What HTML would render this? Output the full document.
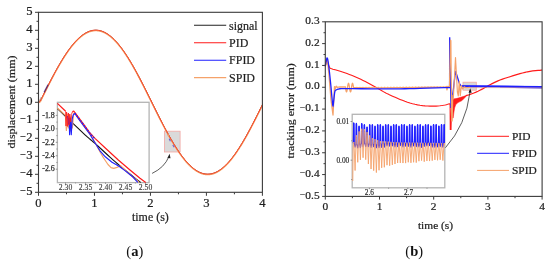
<!DOCTYPE html>
<html><head><meta charset="utf-8"><style>
html,body{margin:0;padding:0;background:#fff;}
body{width:550px;height:263px;overflow:hidden;}
svg{display:block;}
</style></head><body>
<svg width="550" height="263" viewBox="0 0 550 263" font-family='"Liberation Serif", "Times New Roman", serif' fill="#1e1e1e">
<rect width="550" height="263" fill="#fff"/>
<path d="M35.00,192.30H38.5M36.50,183.30H38.5M35.00,174.30H38.5M36.50,165.30H38.5M35.00,156.30H38.5M36.50,147.30H38.5M35.00,138.30H38.5M36.50,129.30H38.5M35.00,120.30H38.5M36.50,111.30H38.5M35.00,102.30H38.5M36.50,93.30H38.5M35.00,84.30H38.5M36.50,75.30H38.5M35.00,66.30H38.5M36.50,57.30H38.5M35.00,48.30H38.5M36.50,39.30H38.5M35.00,30.30H38.5M36.50,21.30H38.5M35.00,12.30H38.5M38.50,192.3V195.80M66.49,192.3V194.30M94.47,192.3V195.80M122.46,192.3V194.30M150.45,192.3V195.80M178.44,192.3V194.30M206.42,192.3V195.80M234.41,192.3V194.30M262.40,192.3V195.80" stroke="#3a3a3a" stroke-width="1" fill="none"/>
<text transform="translate(32.50,194.90)" font-size="12.6" text-anchor="end" stroke="#1e1e1e" stroke-width="0.22"><tspan font-size="10.2" dy="-0.6">−</tspan><tspan dx="0.3" dy="0.6">5</tspan></text>
<text transform="translate(32.50,176.90)" font-size="12.6" text-anchor="end" stroke="#1e1e1e" stroke-width="0.22"><tspan font-size="10.2" dy="-0.6">−</tspan><tspan dx="0.3" dy="0.6">4</tspan></text>
<text transform="translate(32.50,158.90)" font-size="12.6" text-anchor="end" stroke="#1e1e1e" stroke-width="0.22"><tspan font-size="10.2" dy="-0.6">−</tspan><tspan dx="0.3" dy="0.6">3</tspan></text>
<text transform="translate(32.50,140.90)" font-size="12.6" text-anchor="end" stroke="#1e1e1e" stroke-width="0.22"><tspan font-size="10.2" dy="-0.6">−</tspan><tspan dx="0.3" dy="0.6">2</tspan></text>
<text transform="translate(32.50,122.90)" font-size="12.6" text-anchor="end" stroke="#1e1e1e" stroke-width="0.22"><tspan font-size="10.2" dy="-0.6">−</tspan><tspan dx="0.3" dy="0.6">1</tspan></text>
<text transform="translate(32.50,104.90)" font-size="12.6" text-anchor="end" stroke="#1e1e1e" stroke-width="0.22">0</text>
<text transform="translate(32.50,86.90)" font-size="12.6" text-anchor="end" stroke="#1e1e1e" stroke-width="0.22">1</text>
<text transform="translate(32.50,68.90)" font-size="12.6" text-anchor="end" stroke="#1e1e1e" stroke-width="0.22">2</text>
<text transform="translate(32.50,50.90)" font-size="12.6" text-anchor="end" stroke="#1e1e1e" stroke-width="0.22">3</text>
<text transform="translate(32.50,32.90)" font-size="12.6" text-anchor="end" stroke="#1e1e1e" stroke-width="0.22">4</text>
<text transform="translate(32.50,14.90)" font-size="12.6" text-anchor="end" stroke="#1e1e1e" stroke-width="0.22">5</text>
<text transform="translate(38.50,207.20)" font-size="12.6" text-anchor="middle" stroke="#1e1e1e" stroke-width="0.22">0</text>
<text transform="translate(94.47,207.20)" font-size="12.6" text-anchor="middle" stroke="#1e1e1e" stroke-width="0.22">1</text>
<text transform="translate(150.45,207.20)" font-size="12.6" text-anchor="middle" stroke="#1e1e1e" stroke-width="0.22">2</text>
<text transform="translate(206.42,207.20)" font-size="12.6" text-anchor="middle" stroke="#1e1e1e" stroke-width="0.22">3</text>
<text transform="translate(262.40,207.20)" font-size="12.6" text-anchor="middle" stroke="#1e1e1e" stroke-width="0.22">4</text>
<text transform="translate(150.40,220.50) scale(0.95,1.0)" font-size="12.6" text-anchor="middle" stroke="#1e1e1e" stroke-width="0.22">time (s)</text>
<text transform="translate(15.40,102.00) rotate(-90) scale(1.0,0.9)" font-size="12.0" text-anchor="middle" stroke="#1e1e1e" stroke-width="0.22">displacement (mm)</text>
<text transform="translate(134.8,256.0)" font-size="14.5" text-anchor="middle" fill="#111">(<tspan font-weight="bold">a</tspan>)</text>
<rect x="164.4" y="131.2" width="15.7" height="20.8" fill="#dadada" stroke="#f2a8a4" stroke-width="0.8"/>
<clipPath id="cl"><rect x="38.5" y="12.3" width="223.89999999999998" height="180.0"/></clipPath>
<g clip-path="url(#cl)">
<path d="M39.00,102.30L40.36,101.17L40.92,100.04L41.48,98.91L42.04,97.78L42.60,96.65L43.16,95.52L43.72,94.40L44.28,93.28L44.84,92.16L45.40,91.04L45.96,89.92L46.52,88.81L47.08,87.70L47.64,86.59L48.20,85.49L48.76,84.39L49.32,83.30L49.88,82.21L50.44,81.13L50.99,80.05L51.55,78.98L52.11,77.91L52.67,76.85L53.23,75.80L53.79,74.75L54.35,73.71L54.91,72.67L55.47,71.64L56.03,70.62L56.59,69.61L57.15,68.61L57.71,67.61L58.27,66.63L58.83,65.65L59.39,64.68L59.95,63.72L60.51,62.77L61.07,61.83L61.63,60.90L62.19,59.98L62.75,59.07L63.31,58.17L63.87,57.28L64.43,56.41L64.99,55.54L65.55,54.69L66.11,53.84L66.67,53.01L67.23,52.19L67.79,51.39L68.35,50.59L68.91,49.81L69.47,49.05L70.03,48.29L70.59,47.55L71.15,46.82L71.71,46.11L72.27,45.41L72.83,44.72L73.38,44.05L73.94,43.39L74.50,42.75L75.06,42.12L75.62,41.51L76.18,40.91L76.74,40.33L77.30,39.76L77.86,39.21L78.42,38.67L78.98,38.15L79.54,37.64L80.10,37.15L80.66,36.68L81.22,36.22L81.78,35.78L82.34,35.36L82.90,34.95L83.46,34.56L84.02,34.18L84.58,33.82L85.14,33.48L85.70,33.16L86.26,32.85L86.82,32.56L87.38,32.29L87.94,32.03L88.50,31.80L89.06,31.58L89.62,31.37L90.18,31.19L90.74,31.02L91.30,30.87L91.86,30.73L92.42,30.62L92.98,30.52L93.54,30.44L94.10,30.38L94.66,30.34L95.22,30.31L95.77,30.30L96.33,30.31L96.89,30.34L97.45,30.38L98.01,30.44L98.57,30.52L99.13,30.62L99.69,30.73L100.25,30.87L100.81,31.02L101.37,31.19L101.93,31.37L102.49,31.58L103.05,31.80L103.61,32.03L104.17,32.29L104.73,32.56L105.29,32.85L105.85,33.16L106.41,33.48L106.97,33.82L107.53,34.18L108.09,34.56L108.65,34.95L109.21,35.36L109.77,35.78L110.33,36.22L110.89,36.68L111.45,37.15L112.01,37.64L112.57,38.15L113.13,38.67L113.69,39.21L114.25,39.76L114.81,40.33L115.37,40.91L115.93,41.51L116.49,42.12L117.05,42.75L117.61,43.39L118.16,44.05L118.72,44.72L119.28,45.41L119.84,46.11L120.40,46.82L120.96,47.55L121.52,48.29L122.08,49.05L122.64,49.81L123.20,50.59L123.76,51.39L124.32,52.19L124.88,53.01L125.44,53.84L126.00,54.69L126.56,55.54L127.12,56.41L127.68,57.28L128.24,58.17L128.80,59.07L129.36,59.98L129.92,60.90L130.48,61.83L131.04,62.77L131.60,63.72L132.16,64.68L132.72,65.65L133.28,66.63L133.84,67.61L134.40,68.61L134.96,69.61L135.52,70.62L136.08,71.64L136.64,72.67L137.20,73.71L137.76,74.75L138.32,75.80L138.88,76.85L139.44,77.91L140.00,78.98L140.56,80.05L141.11,81.13L141.67,82.21L142.23,83.30L142.79,84.39L143.35,85.49L143.91,86.59L144.47,87.70L145.03,88.81L145.59,89.92L146.15,91.04L146.71,92.16L147.27,93.28L147.83,94.40L148.39,95.52L148.95,96.65L149.51,97.78L150.07,98.91L150.63,100.04L151.19,101.17L151.75,102.30L152.31,103.43L152.87,104.56L153.43,105.69L153.99,106.82L154.55,107.95L155.11,109.08L155.67,110.20L156.23,111.32L156.79,112.44L157.35,113.56L157.91,114.68L158.47,115.79L159.03,116.90L159.59,118.01L160.15,119.11L160.71,120.21L161.27,121.30L161.83,122.39L162.39,123.47L162.94,124.55L163.50,125.62L164.06,126.69L164.62,127.75L165.18,128.80L165.74,129.85L166.30,130.89L166.86,131.93L167.42,132.96L167.98,133.98L168.54,134.99L169.10,135.99L169.66,136.99L170.22,137.97L170.78,138.95L171.34,139.92L171.90,140.88L172.46,141.83L173.02,142.77L173.58,143.70L174.14,144.62L174.70,145.53L175.26,146.43L175.82,147.32L176.38,148.19L176.94,149.06L177.50,149.91L178.06,150.76L178.62,151.59L179.18,152.41L179.74,153.21L180.30,154.01L180.86,154.79L181.42,155.55L181.98,156.31L182.54,157.05L183.10,157.78L183.66,158.49L184.22,159.19L184.78,159.88L185.34,160.55L185.89,161.21L186.45,161.85L187.01,162.48L187.57,163.09L188.13,163.69L188.69,164.27L189.25,164.84L189.81,165.39L190.37,165.93L190.93,166.45L191.49,166.96L192.05,167.45L192.61,167.92L193.17,168.38L193.73,168.82L194.29,169.24L194.85,169.65L195.41,170.04L195.97,170.42L196.53,170.78L197.09,171.12L197.65,171.44L198.21,171.75L198.77,172.04L199.33,172.31L199.89,172.57L200.45,172.80L201.01,173.02L201.57,173.23L202.13,173.41L202.69,173.58L203.25,173.73L203.81,173.87L204.37,173.98L204.93,174.08L205.49,174.16L206.05,174.22L206.61,174.26L207.17,174.29L207.72,174.30L208.28,174.29L208.84,174.26L209.40,174.22L209.96,174.16L210.52,174.08L211.08,173.98L211.64,173.87L212.20,173.73L212.76,173.58L213.32,173.41L213.88,173.23L214.44,173.02L215.00,172.80L215.56,172.57L216.12,172.31L216.68,172.04L217.24,171.75L217.80,171.44L218.36,171.12L218.92,170.78L219.48,170.42L220.04,170.04L220.60,169.65L221.16,169.24L221.72,168.82L222.28,168.38L222.84,167.92L223.40,167.45L223.96,166.96L224.52,166.45L225.08,165.93L225.64,165.39L226.20,164.84L226.76,164.27L227.32,163.69L227.88,163.09L228.44,162.48L229.00,161.85L229.56,161.21L230.11,160.55L230.67,159.88L231.23,159.19L231.79,158.49L232.35,157.78L232.91,157.05L233.47,156.31L234.03,155.55L234.59,154.79L235.15,154.01L235.71,153.21L236.27,152.41L236.83,151.59L237.39,150.76L237.95,149.91L238.51,149.06L239.07,148.19L239.63,147.32L240.19,146.43L240.75,145.53L241.31,144.62L241.87,143.70L242.43,142.77L242.99,141.83L243.55,140.88L244.11,139.92L244.67,138.95L245.23,137.97L245.79,136.99L246.35,135.99L246.91,134.99L247.47,133.98L248.03,132.96L248.59,131.93L249.15,130.89L249.71,129.85L250.27,128.80L250.83,127.75L251.39,126.69L251.95,125.62L252.50,124.55L253.06,123.47L253.62,122.39L254.18,121.30L254.74,120.21L255.30,119.11L255.86,118.01L256.42,116.90L256.98,115.79L257.54,114.68L258.10,113.56L258.66,112.44L259.22,111.32L259.78,110.20L260.34,109.08L260.90,107.95L261.46,106.82L262.02,105.69L262.58,104.56L263.14,103.43L263.70,102.30" stroke="#000" stroke-width="0.9" fill="none"/>
<path d="M39.00,102.60L40.36,101.47L40.92,100.34L41.48,99.21L42.04,98.08L42.60,96.95L43.16,95.82L43.72,94.70L44.28,93.58L44.84,92.46L45.40,91.34L45.96,90.22L46.52,89.11L47.08,88.00L47.64,86.89L48.20,85.79L48.76,84.69L49.32,83.60L49.88,82.51L50.44,81.43L50.99,80.35L51.55,79.28L52.11,78.21L52.67,77.15L53.23,76.10L53.79,75.05L54.35,74.01L54.91,72.97L55.47,71.94L56.03,70.92L56.59,69.91L57.15,68.91L57.71,67.91L58.27,66.93L58.83,65.95L59.39,64.98L59.95,64.02L60.51,63.07L61.07,62.13L61.63,61.20L62.19,60.28L62.75,59.37L63.31,58.47L63.87,57.58L64.43,56.71L64.99,55.84L65.55,54.99L66.11,54.14L66.67,53.31L67.23,52.49L67.79,51.69L68.35,50.89L68.91,50.11L69.47,49.35L70.03,48.59L70.59,47.85L71.15,47.12L71.71,46.41L72.27,45.71L72.83,45.02L73.38,44.35L73.94,43.69L74.50,43.05L75.06,42.42L75.62,41.81L76.18,41.21L76.74,40.63L77.30,40.06L77.86,39.51L78.42,38.97L78.98,38.45L79.54,37.94L80.10,37.45L80.66,36.98L81.22,36.52L81.78,36.08L82.34,35.66L82.90,35.25L83.46,34.86L84.02,34.48L84.58,34.12L85.14,33.78L85.70,33.46L86.26,33.15L86.82,32.86L87.38,32.59L87.94,32.33L88.50,32.10L89.06,31.88L89.62,31.67L90.18,31.49L90.74,31.32L91.30,31.17L91.86,31.03L92.42,30.92L92.98,30.82L93.54,30.74L94.10,30.68L94.66,30.64L95.22,30.61L95.77,30.60L96.33,30.61L96.89,30.64L97.45,30.68L98.01,30.74L98.57,30.82L99.13,30.92L99.69,31.03L100.25,31.17L100.81,31.32L101.37,31.49L101.93,31.67L102.49,31.88L103.05,32.10L103.61,32.33L104.17,32.59L104.73,32.86L105.29,33.15L105.85,33.46L106.41,33.78L106.97,34.12L107.53,34.48L108.09,34.86L108.65,35.25L109.21,35.66L109.77,36.08L110.33,36.52L110.89,36.98L111.45,37.45L112.01,37.94L112.57,38.45L113.13,38.97L113.69,39.51L114.25,40.06L114.81,40.63L115.37,41.21L115.93,41.81L116.49,42.42L117.05,43.05L117.61,43.69L118.16,44.35L118.72,45.02L119.28,45.71L119.84,46.41L120.40,47.12L120.96,47.85L121.52,48.59L122.08,49.35L122.64,50.11L123.20,50.89L123.76,51.69L124.32,52.49L124.88,53.31L125.44,54.14L126.00,54.99L126.56,55.84L127.12,56.71L127.68,57.58L128.24,58.47L128.80,59.37L129.36,60.28L129.92,61.20L130.48,62.13L131.04,63.07L131.60,64.02L132.16,64.98L132.72,65.95L133.28,66.93L133.84,67.91L134.40,68.91L134.96,69.91L135.52,70.92L136.08,71.94L136.64,72.97L137.20,74.01L137.76,75.05L138.32,76.10L138.88,77.15L139.44,78.21L140.00,79.28L140.56,80.35L141.11,81.43L141.67,82.51L142.23,83.60L142.79,84.69L143.35,85.79L143.91,86.89L144.47,88.00L145.03,89.11L145.59,90.22L146.15,91.34L146.71,92.46L147.27,93.58L147.83,94.70L148.39,95.82L148.95,96.95L149.51,98.08L150.07,99.21L150.63,100.34L151.19,101.47L151.75,102.60L152.31,103.73L152.87,104.86L153.43,105.99L153.99,107.12L154.55,108.25L155.11,109.38L155.67,110.50L156.23,111.62L156.79,112.74L157.35,113.86L157.91,114.98L158.47,116.09L159.03,117.20L159.59,118.31L160.15,119.41L160.71,120.51L161.27,121.60L161.83,122.69L162.39,123.77L162.94,124.85L163.50,125.92L164.06,126.99L164.62,128.05L165.18,129.10L165.74,130.15L166.30,131.19L166.86,132.23L167.42,133.26L167.98,134.28L168.54,135.29L169.10,136.29L169.66,137.29L170.22,138.27L170.78,139.25L171.34,140.22L171.90,141.18L172.46,142.13L173.02,143.07L173.58,144.00L174.14,144.92L174.70,145.83L175.26,146.73L175.82,147.62L176.38,148.49L176.94,149.36L177.50,150.21L178.06,151.06L178.62,151.89L179.18,152.71L179.74,153.51L180.30,154.31L180.86,155.09L181.42,155.85L181.98,156.61L182.54,157.35L183.10,158.08L183.66,158.79L184.22,159.49L184.78,160.18L185.34,160.85L185.89,161.51L186.45,162.15L187.01,162.78L187.57,163.39L188.13,163.99L188.69,164.57L189.25,165.14L189.81,165.69L190.37,166.23L190.93,166.75L191.49,167.26L192.05,167.75L192.61,168.22L193.17,168.68L193.73,169.12L194.29,169.54L194.85,169.95L195.41,170.34L195.97,170.72L196.53,171.08L197.09,171.42L197.65,171.74L198.21,172.05L198.77,172.34L199.33,172.61L199.89,172.87L200.45,173.10L201.01,173.32L201.57,173.53L202.13,173.71L202.69,173.88L203.25,174.03L203.81,174.17L204.37,174.28L204.93,174.38L205.49,174.46L206.05,174.52L206.61,174.56L207.17,174.59L207.72,174.60L208.28,174.59L208.84,174.56L209.40,174.52L209.96,174.46L210.52,174.38L211.08,174.28L211.64,174.17L212.20,174.03L212.76,173.88L213.32,173.71L213.88,173.53L214.44,173.32L215.00,173.10L215.56,172.87L216.12,172.61L216.68,172.34L217.24,172.05L217.80,171.74L218.36,171.42L218.92,171.08L219.48,170.72L220.04,170.34L220.60,169.95L221.16,169.54L221.72,169.12L222.28,168.68L222.84,168.22L223.40,167.75L223.96,167.26L224.52,166.75L225.08,166.23L225.64,165.69L226.20,165.14L226.76,164.57L227.32,163.99L227.88,163.39L228.44,162.78L229.00,162.15L229.56,161.51L230.11,160.85L230.67,160.18L231.23,159.49L231.79,158.79L232.35,158.08L232.91,157.35L233.47,156.61L234.03,155.85L234.59,155.09L235.15,154.31L235.71,153.51L236.27,152.71L236.83,151.89L237.39,151.06L237.95,150.21L238.51,149.36L239.07,148.49L239.63,147.62L240.19,146.73L240.75,145.83L241.31,144.92L241.87,144.00L242.43,143.07L242.99,142.13L243.55,141.18L244.11,140.22L244.67,139.25L245.23,138.27L245.79,137.29L246.35,136.29L246.91,135.29L247.47,134.28L248.03,133.26L248.59,132.23L249.15,131.19L249.71,130.15L250.27,129.10L250.83,128.05L251.39,126.99L251.95,125.92L252.50,124.85L253.06,123.77L253.62,122.69L254.18,121.60L254.74,120.51L255.30,119.41L255.86,118.31L256.42,117.20L256.98,116.09L257.54,114.98L258.10,113.86L258.66,112.74L259.22,111.62L259.78,110.50L260.34,109.38L260.90,108.25L261.46,107.12L262.02,105.99L262.58,104.86L263.14,103.73L263.70,102.60" stroke="#f5a26a" stroke-width="1.45" fill="none"/>
<path d="M39.00,102.10L40.36,100.97L40.92,99.84L41.48,98.71L42.04,97.58L42.60,96.45L43.16,95.32L43.72,94.20L44.28,93.08L44.84,91.96L45.40,90.84L45.96,89.72L46.52,88.61L47.08,87.50L47.64,86.39L48.20,85.29L48.76,84.19L49.32,83.10L49.88,82.01L50.44,80.93L50.99,79.85L51.55,78.78L52.11,77.71L52.67,76.65L53.23,75.60L53.79,74.55L54.35,73.51L54.91,72.47L55.47,71.44L56.03,70.42L56.59,69.41L57.15,68.41L57.71,67.41L58.27,66.43L58.83,65.45L59.39,64.48L59.95,63.52L60.51,62.57L61.07,61.63L61.63,60.70L62.19,59.78L62.75,58.87L63.31,57.97L63.87,57.08L64.43,56.21L64.99,55.34L65.55,54.49L66.11,53.64L66.67,52.81L67.23,51.99L67.79,51.19L68.35,50.39L68.91,49.61L69.47,48.85L70.03,48.09L70.59,47.35L71.15,46.62L71.71,45.91L72.27,45.21L72.83,44.52L73.38,43.85L73.94,43.19L74.50,42.55L75.06,41.92L75.62,41.31L76.18,40.71L76.74,40.13L77.30,39.56L77.86,39.01L78.42,38.47L78.98,37.95L79.54,37.44L80.10,36.95L80.66,36.48L81.22,36.02L81.78,35.58L82.34,35.16L82.90,34.75L83.46,34.36L84.02,33.98L84.58,33.62L85.14,33.28L85.70,32.96L86.26,32.65L86.82,32.36L87.38,32.09L87.94,31.83L88.50,31.60L89.06,31.38L89.62,31.17L90.18,30.99L90.74,30.82L91.30,30.67L91.86,30.53L92.42,30.42L92.98,30.32L93.54,30.24L94.10,30.18L94.66,30.14L95.22,30.11L95.77,30.10L96.33,30.11L96.89,30.14L97.45,30.18L98.01,30.24L98.57,30.32L99.13,30.42L99.69,30.53L100.25,30.67L100.81,30.82L101.37,30.99L101.93,31.17L102.49,31.38L103.05,31.60L103.61,31.83L104.17,32.09L104.73,32.36L105.29,32.65L105.85,32.96L106.41,33.28L106.97,33.62L107.53,33.98L108.09,34.36L108.65,34.75L109.21,35.16L109.77,35.58L110.33,36.02L110.89,36.48L111.45,36.95L112.01,37.44L112.57,37.95L113.13,38.47L113.69,39.01L114.25,39.56L114.81,40.13L115.37,40.71L115.93,41.31L116.49,41.92L117.05,42.55L117.61,43.19L118.16,43.85L118.72,44.52L119.28,45.21L119.84,45.91L120.40,46.62L120.96,47.35L121.52,48.09L122.08,48.85L122.64,49.61L123.20,50.39L123.76,51.19L124.32,51.99L124.88,52.81L125.44,53.64L126.00,54.49L126.56,55.34L127.12,56.21L127.68,57.08L128.24,57.97L128.80,58.87L129.36,59.78L129.92,60.70L130.48,61.63L131.04,62.57L131.60,63.52L132.16,64.48L132.72,65.45L133.28,66.43L133.84,67.41L134.40,68.41L134.96,69.41L135.52,70.42L136.08,71.44L136.64,72.47L137.20,73.51L137.76,74.55L138.32,75.60L138.88,76.65L139.44,77.71L140.00,78.78L140.56,79.85L141.11,80.93L141.67,82.01L142.23,83.10L142.79,84.19L143.35,85.29L143.91,86.39L144.47,87.50L145.03,88.61L145.59,89.72L146.15,90.84L146.71,91.96L147.27,93.08L147.83,94.20L148.39,95.32L148.95,96.45L149.51,97.58L150.07,98.71L150.63,99.84L151.19,100.97L151.75,102.10L152.31,103.23L152.87,104.36L153.43,105.49L153.99,106.62L154.55,107.75L155.11,108.88L155.67,110.00L156.23,111.12L156.79,112.24L157.35,113.36L157.91,114.48L158.47,115.59L159.03,116.70L159.59,117.81L160.15,118.91L160.71,120.01L161.27,121.10L161.83,122.19L162.39,123.27L162.94,124.35L163.50,125.42L164.06,126.49L164.62,127.55L165.18,128.60L165.74,129.65L166.30,130.69L166.86,131.73L167.42,132.76L167.98,133.78L168.54,134.79L169.10,135.79L169.66,136.79L170.22,137.77L170.78,138.75L171.34,139.72L171.90,140.68L172.46,141.63L173.02,142.57L173.58,143.50L174.14,144.42L174.70,145.33L175.26,146.23L175.82,147.12L176.38,147.99L176.94,148.86L177.50,149.71L178.06,150.56L178.62,151.39L179.18,152.21L179.74,153.01L180.30,153.81L180.86,154.59L181.42,155.35L181.98,156.11L182.54,156.85L183.10,157.58L183.66,158.29L184.22,158.99L184.78,159.68L185.34,160.35L185.89,161.01L186.45,161.65L187.01,162.28L187.57,162.89L188.13,163.49L188.69,164.07L189.25,164.64L189.81,165.19L190.37,165.73L190.93,166.25L191.49,166.76L192.05,167.25L192.61,167.72L193.17,168.18L193.73,168.62L194.29,169.04L194.85,169.45L195.41,169.84L195.97,170.22L196.53,170.58L197.09,170.92L197.65,171.24L198.21,171.55L198.77,171.84L199.33,172.11L199.89,172.37L200.45,172.60L201.01,172.82L201.57,173.03L202.13,173.21L202.69,173.38L203.25,173.53L203.81,173.67L204.37,173.78L204.93,173.88L205.49,173.96L206.05,174.02L206.61,174.06L207.17,174.09L207.72,174.10L208.28,174.09L208.84,174.06L209.40,174.02L209.96,173.96L210.52,173.88L211.08,173.78L211.64,173.67L212.20,173.53L212.76,173.38L213.32,173.21L213.88,173.03L214.44,172.82L215.00,172.60L215.56,172.37L216.12,172.11L216.68,171.84L217.24,171.55L217.80,171.24L218.36,170.92L218.92,170.58L219.48,170.22L220.04,169.84L220.60,169.45L221.16,169.04L221.72,168.62L222.28,168.18L222.84,167.72L223.40,167.25L223.96,166.76L224.52,166.25L225.08,165.73L225.64,165.19L226.20,164.64L226.76,164.07L227.32,163.49L227.88,162.89L228.44,162.28L229.00,161.65L229.56,161.01L230.11,160.35L230.67,159.68L231.23,158.99L231.79,158.29L232.35,157.58L232.91,156.85L233.47,156.11L234.03,155.35L234.59,154.59L235.15,153.81L235.71,153.01L236.27,152.21L236.83,151.39L237.39,150.56L237.95,149.71L238.51,148.86L239.07,147.99L239.63,147.12L240.19,146.23L240.75,145.33L241.31,144.42L241.87,143.50L242.43,142.57L242.99,141.63L243.55,140.68L244.11,139.72L244.67,138.75L245.23,137.77L245.79,136.79L246.35,135.79L246.91,134.79L247.47,133.78L248.03,132.76L248.59,131.73L249.15,130.69L249.71,129.65L250.27,128.60L250.83,127.55L251.39,126.49L251.95,125.42L252.50,124.35L253.06,123.27L253.62,122.19L254.18,121.10L254.74,120.01L255.30,118.91L255.86,117.81L256.42,116.70L256.98,115.59L257.54,114.48L258.10,113.36L258.66,112.24L259.22,111.12L259.78,110.00L260.34,108.88L260.90,107.75L261.46,106.62L262.02,105.49L262.58,104.36L263.14,103.23L263.70,102.10" stroke="#ff2a14" stroke-width="0.95" fill="none" opacity="0.85"/>
</g>
<path d="M169.2,138.8l1.2,2.4M172.8,145l1.4,2.2" stroke="#5a48d0" stroke-width="1.1" fill="none" opacity="0.85"/>
<path d="M167.9,134.3l0.9,2.4" stroke="#f0a070" stroke-width="1.3" fill="none"/>
<path d="M44.1,92.4L46.0,88.6L48.1,84.6" stroke="#3a1a70" stroke-width="1.3" fill="none" opacity="0.75"/>
<path d="M38.9,101.8L41.5,97" stroke="#b08070" stroke-width="1.2" fill="none" opacity="0.7"/>
<path d="M152.1,173.4 Q164.5,167.5 168.9,156.6" stroke="#333" stroke-width="0.8" fill="none"/>
<path d="M169.6,153.8 L167.4,157.9 L170.5,158.3 Z" fill="#222"/>
<rect x="38.5" y="12.3" width="223.89999999999998" height="180.0" fill="none" stroke="#3a3a3a" stroke-width="1.1"/>
<path d="M194.0,25.3H226.2" stroke="#222" stroke-width="1.05"/>
<text transform="translate(229.10,29.50) scale(0.95,1.0)" font-size="12.6" stroke="#1e1e1e" stroke-width="0.22">signal</text>
<path d="M194.0,42.7H226.2" stroke="#ff1a1a" stroke-width="1.05"/>
<text transform="translate(229.10,46.90) scale(0.95,1.0)" font-size="12.6" stroke="#1e1e1e" stroke-width="0.22">PID</text>
<path d="M194.0,60.2H226.2" stroke="#1f1fff" stroke-width="1.05"/>
<text transform="translate(229.10,64.40) scale(0.95,1.0)" font-size="12.6" stroke="#1e1e1e" stroke-width="0.22">FPID</text>
<path d="M194.0,77.6H226.2" stroke="#f5a26a" stroke-width="1.05"/>
<text transform="translate(229.10,81.80) scale(0.95,1.0)" font-size="12.6" stroke="#1e1e1e" stroke-width="0.22">SPID</text>
<rect x="57.4" y="102.3" width="91.69999999999999" height="80.3" fill="#fff" stroke="#b4b4b4" stroke-width="1.3"/>
<path d="M55.80,115.40H57.4M56.40,122.13H57.4M55.80,128.85H57.4M56.40,135.58H57.4M55.80,142.30H57.4M56.40,149.02H57.4M55.80,155.75H57.4M56.40,162.47H57.4M55.80,169.20H57.4M65.50,182.6V183.80M75.50,182.6V183.40M85.50,182.6V183.80M95.50,182.6V183.40M105.50,182.6V183.80M115.50,182.6V183.40M125.50,182.6V183.80M135.50,182.6V183.40M145.50,182.6V183.80" stroke="#777" stroke-width="0.8"/>
<text transform="translate(54.80,117.60)" font-size="7.9" text-anchor="end" fill="#2a2a2a" stroke="#2a2a2a" stroke-width="0.25">-1.8</text>
<text transform="translate(54.80,131.05)" font-size="7.9" text-anchor="end" fill="#2a2a2a" stroke="#2a2a2a" stroke-width="0.25">-2.0</text>
<text transform="translate(54.80,144.50)" font-size="7.9" text-anchor="end" fill="#2a2a2a" stroke="#2a2a2a" stroke-width="0.25">-2.2</text>
<text transform="translate(54.80,157.95)" font-size="7.9" text-anchor="end" fill="#2a2a2a" stroke="#2a2a2a" stroke-width="0.25">-2.4</text>
<text transform="translate(54.80,171.40)" font-size="7.9" text-anchor="end" fill="#2a2a2a" stroke="#2a2a2a" stroke-width="0.25">-2.6</text>
<text transform="translate(65.50,190.40)" font-size="7.7" text-anchor="middle" fill="#3a3a3a" stroke="#3a3a3a" stroke-width="0.12">2.30</text>
<text transform="translate(85.50,190.40)" font-size="7.7" text-anchor="middle" fill="#3a3a3a" stroke="#3a3a3a" stroke-width="0.12">2.35</text>
<text transform="translate(105.50,190.40)" font-size="7.7" text-anchor="middle" fill="#3a3a3a" stroke="#3a3a3a" stroke-width="0.12">2.40</text>
<text transform="translate(125.50,190.40)" font-size="7.7" text-anchor="middle" fill="#3a3a3a" stroke="#3a3a3a" stroke-width="0.12">2.45</text>
<text transform="translate(145.50,190.40)" font-size="7.7" text-anchor="middle" fill="#3a3a3a" stroke="#3a3a3a" stroke-width="0.12">2.50</text>
<path d="M57.40,108.60L60.61,111.65L65.21,116.04L70.58,121.16L76.08,126.40L81.10,131.15L85.00,134.80L87.59,137.16L89.34,138.68L90.60,139.71L91.73,140.61L93.07,141.72L95.00,143.40L97.60,145.75L100.61,148.50L103.84,151.48L107.11,154.47L110.23,157.31L113.00,159.80L115.37,161.88L117.48,163.71L119.43,165.37L121.34,166.97L123.33,168.61L125.50,170.40L128.04,172.47L130.90,174.77L133.83,177.11L136.59,179.31L138.93,181.17L140.60,182.50" stroke="#111" stroke-width="1.1" fill="none"/>
<path d="M57.40,108.00L65.40,115.40L66.40,130.50L67.30,114.00L68.30,128.00L69.30,115.00L70.30,131.00L71.30,116.00L72.40,128.00L73.60,113.50L74.60,112.60L80.00,120.40L90.00,134.00L95.00,142.50L99.50,151.00L103.60,158.00L108.00,164.50L111.00,167.60L113.80,168.30L117.00,167.40L120.70,165.70L126.00,171.00L132.00,176.20L139.00,182.30" stroke="#f5a26a" stroke-width="1.2" fill="none" stroke-linejoin="round"/>
<path d="M67.60,116.00L68.40,124.00L69.00,118.00L69.60,134.80L70.40,118.00L71.30,134.80L72.20,119.00L73.20,115.00L74.60,113.60L76.00,115.20L80.00,121.00L90.00,134.50L95.00,142.80L100.00,150.80L105.30,156.80L112.00,162.30L119.00,166.20L125.00,170.60L132.00,176.20L137.80,182.30" stroke="#1f1fff" stroke-width="1.1" fill="none" stroke-linejoin="round"/>
<path d="M57.4,103.4L65.6,111.3" stroke="#ff1a1a" stroke-width="1.2" fill="none"/>
<path d="M65.60,111.30L66.00,126.00L66.60,112.00L67.60,126.50L68.40,113.00L69.10,125.00L69.80,114.00L70.60,122.00L71.40,114.50L72.40,112.00" stroke="#ff1a1a" stroke-width="0.9" fill="none" stroke-linejoin="round" opacity="0.9"/>
<path d="M72.40,112.00L73.20,111.30L73.80,111.00L80.00,119.30L85.00,126.20L90.00,133.00L95.00,138.40L105.00,147.70L118.30,160.00L130.00,170.00L140.00,178.20L145.70,182.40" stroke="#ff1a1a" stroke-width="1.2" fill="none" stroke-linejoin="round"/>
<path d="M75.0,113.2L80,119.6L90,133.2L95,139" stroke="#1f1fff" stroke-width="1.2" fill="none" stroke-dasharray="1.5,1.5"/>
<path d="M322.10,196.40H325.3M323.50,185.49H325.3M322.10,174.57H325.3M323.50,163.66H325.3M322.10,152.75H325.3M323.50,141.84H325.3M322.10,130.92H325.3M323.50,120.01H325.3M322.10,109.10H325.3M323.50,98.19H325.3M322.10,87.27H325.3M323.50,76.36H325.3M322.10,65.45H325.3M323.50,54.54H325.3M322.10,43.62H325.3M323.50,32.71H325.3M322.10,21.80H325.3M325.30,196.4V199.60M352.40,196.4V198.20M379.50,196.4V199.60M406.60,196.4V198.20M433.70,196.4V199.60M460.80,196.4V198.20M487.90,196.4V199.60M515.00,196.4V198.20M542.10,196.4V199.60" stroke="#3a3a3a" stroke-width="1" fill="none"/>
<text transform="translate(319.60,198.50)" font-size="11.4" text-anchor="end" stroke="#1e1e1e" stroke-width="0.22"><tspan font-size="9.6" dy="-0.45">−</tspan><tspan dx="0.2" dy="0.45">0.5</tspan></text>
<text transform="translate(319.60,176.67)" font-size="11.4" text-anchor="end" stroke="#1e1e1e" stroke-width="0.22"><tspan font-size="9.6" dy="-0.45">−</tspan><tspan dx="0.2" dy="0.45">0.4</tspan></text>
<text transform="translate(319.60,154.85)" font-size="11.4" text-anchor="end" stroke="#1e1e1e" stroke-width="0.22"><tspan font-size="9.6" dy="-0.45">−</tspan><tspan dx="0.2" dy="0.45">0.3</tspan></text>
<text transform="translate(319.60,133.02)" font-size="11.4" text-anchor="end" stroke="#1e1e1e" stroke-width="0.22"><tspan font-size="9.6" dy="-0.45">−</tspan><tspan dx="0.2" dy="0.45">0.2</tspan></text>
<text transform="translate(319.60,111.20)" font-size="11.4" text-anchor="end" stroke="#1e1e1e" stroke-width="0.22"><tspan font-size="9.6" dy="-0.45">−</tspan><tspan dx="0.2" dy="0.45">0.1</tspan></text>
<text transform="translate(319.60,89.37)" font-size="11.4" text-anchor="end" stroke="#1e1e1e" stroke-width="0.22">0.0</text>
<text transform="translate(319.60,67.55)" font-size="11.4" text-anchor="end" stroke="#1e1e1e" stroke-width="0.22">0.1</text>
<text transform="translate(319.60,45.73)" font-size="11.4" text-anchor="end" stroke="#1e1e1e" stroke-width="0.22">0.2</text>
<text transform="translate(319.60,23.90)" font-size="11.4" text-anchor="end" stroke="#1e1e1e" stroke-width="0.22">0.3</text>
<text transform="translate(325.30,210.40)" font-size="11.4" text-anchor="middle" stroke="#1e1e1e" stroke-width="0.22">0</text>
<text transform="translate(379.50,210.40)" font-size="11.4" text-anchor="middle" stroke="#1e1e1e" stroke-width="0.22">1</text>
<text transform="translate(433.70,210.40)" font-size="11.4" text-anchor="middle" stroke="#1e1e1e" stroke-width="0.22">2</text>
<text transform="translate(487.90,210.40)" font-size="11.4" text-anchor="middle" stroke="#1e1e1e" stroke-width="0.22">3</text>
<text transform="translate(542.10,210.40)" font-size="11.4" text-anchor="middle" stroke="#1e1e1e" stroke-width="0.22">4</text>
<text transform="translate(435.50,228.60)" font-size="11.4" text-anchor="middle" stroke="#1e1e1e" stroke-width="0.22">time (s)</text>
<text transform="translate(294.20,110.90) rotate(-90) scale(1.0,0.92)" font-size="12.0" text-anchor="middle" stroke="#1e1e1e" stroke-width="0.22">tracking error (mm)</text>
<text transform="translate(414.2,256.0)" font-size="14.5" text-anchor="middle" fill="#111">(<tspan font-weight="bold">b</tspan>)</text>
<rect x="463" y="82.2" width="13.3" height="8" fill="#d8d8d8" stroke="#f2a8a0" stroke-width="0.8"/>
<path d="M325.30,66.50L325.46,65.74L325.70,64.63L325.96,63.46L326.20,62.50L326.40,61.72L326.59,61.01L326.79,60.51L327.00,60.40L327.22,60.80L327.45,61.59L327.70,62.56L328.00,63.50L328.36,64.44L328.77,65.46L329.19,66.42L329.60,67.20L329.80,67.68L329.88,67.96L330.19,68.21L331.10,68.60L332.84,69.17L335.18,69.84L337.75,70.57L340.20,71.30L342.47,72.03L344.74,72.78L347.02,73.57L349.30,74.40L351.60,75.28L353.90,76.21L356.20,77.18L358.50,78.20L360.78,79.28L363.06,80.43L365.33,81.60L367.60,82.80L369.88,84.02L372.15,85.26L374.43,86.53L376.70,87.80L379.04,89.14L381.43,90.53L383.73,91.86L385.80,93.00L387.51,93.87L388.97,94.56L390.39,95.19L392.00,95.90L393.83,96.73L395.76,97.61L397.82,98.50L400.00,99.40L402.36,100.32L404.88,101.28L407.45,102.19L410.00,103.00L412.50,103.70L415.00,104.32L417.50,104.86L420.00,105.30L422.55,105.63L425.12,105.85L427.64,106.00L430.00,106.10L432.16,106.16L434.19,106.16L436.12,106.11L438.00,106.00L439.88,105.82L441.73,105.57L443.46,105.29L445.00,105.00L446.37,104.69L447.59,104.34L448.59,104.02L449.30,103.80L450.1,104L450.3,129.5L451.0,129.5L451.6,104" stroke="#ff1a1a" stroke-width="1.1" fill="none"/>
<path d="M452.4,99.1 L456,98.6 L459,97.8 L463,96.6 L466,95.6 L466,96.4 L462,100.6 L458,102.6 L455.8,104.6 L454.6,108 L453.8,113 L453.2,118 L452.4,118 Z" fill="#ff1a1a" stroke="#ff1a1a" stroke-width="0.5"/>
<path d="M466.00,95.60L466.67,95.43L467.61,95.20L468.80,94.87L470.20,94.40L471.92,93.75L473.92,92.95L476.02,92.08L478.00,91.20L479.85,90.31L481.68,89.38L483.41,88.46L485.00,87.60L486.27,86.87L487.31,86.22L488.45,85.54L490.00,84.70L492.15,83.62L494.69,82.38L497.38,81.12L500.00,80.00L502.50,79.07L505.00,78.24L507.50,77.47L510.00,76.70L512.50,75.91L515.00,75.14L517.50,74.40L520.00,73.70L522.50,73.03L525.00,72.37L527.50,71.79L530.00,71.30L532.69,70.93L535.50,70.66L538.06,70.45L540.00,70.30L541.11,70.21L541.62,70.19L541.83,70.20L542.00,70.20" stroke="#ff1a1a" stroke-width="1.2" fill="none"/>
<path d="M325.30,66.00L326.50,63.00L327.50,61.00L329.00,75.00L331.00,100.00L333.00,115.00L333.80,100.00L334.50,86.60L335.30,88.50L336.20,86.20L337.20,87.30L340.00,86.90L345.50,87.00L345.75,89.25L346.00,90.64L346.25,91.57L346.50,91.90L346.75,91.57L347.00,90.64L347.25,89.25L347.50,87.60L347.75,85.95L348.00,84.56L348.25,83.63L348.50,83.30L348.75,83.63L349.00,84.56L349.25,85.95L349.50,87.60L349.75,89.25L350.00,90.64L350.25,91.57L350.50,91.90L350.75,91.57L351.00,90.64L351.25,89.25L351.50,87.60L351.75,85.95L352.00,84.56L352.25,83.63L352.50,83.30L352.75,83.63L353.00,84.56L353.25,85.95L353.50,87.60L354.50,87.60L380.00,87.80L420.00,87.40L445.60,87.00L446.30,86.40L447.00,89.80L447.70,86.40L449.60,86.90" stroke="#f5a26a" stroke-width="1.3" fill="none" stroke-linejoin="round"/>
<path d="M356.0,87.40h1.4M359.1,87.39h1.4M362.2,87.37h1.4M365.3,87.36h1.4M368.4,87.34h1.4M371.5,87.33h1.4M374.6,87.32h1.4M377.7,87.30h1.4M380.8,87.29h1.4M383.9,87.27h1.4M387.0,87.26h1.4M390.1,87.25h1.4M393.2,87.23h1.4M396.3,87.22h1.4M399.4,87.20h1.4M402.5,87.19h1.4M405.6,87.17h1.4M408.7,87.16h1.4M411.8,87.15h1.4M414.9,87.13h1.4M418.0,87.12h1.4M421.1,87.10h1.4M424.2,87.09h1.4M427.3,87.08h1.4M430.4,87.06h1.4M433.5,87.05h1.4M436.6,87.03h1.4M439.7,87.02h1.4M442.8,87.01h1.4" stroke="#f5a26a" stroke-width="1.0" fill="none"/>
<path d="M325.30,66.00L325.48,64.94L325.74,63.40L326.03,61.79L326.30,60.50L326.55,59.49L326.79,58.59L327.04,58.04L327.30,58.10L327.57,58.71L327.84,59.78L328.14,61.48L328.50,64.00L328.95,67.65L329.47,72.24L330.00,77.22L330.50,82.00L330.97,86.78L331.42,91.76L331.85,96.35L332.20,100.00L332.46,102.60L332.66,104.44L332.82,105.54L333.00,105.90L333.19,105.32L333.38,103.86L333.58,101.94L333.80,100.00L334.04,97.88L334.30,95.43L334.58,93.12L334.90,91.40L335.25,90.49L335.63,90.11L336.05,89.98L336.50,89.80L336.91,89.53L337.31,89.32L337.85,89.15L338.70,89.00L339.31,88.86L339.80,88.73L341.31,88.64L345.00,88.60L352.08,88.64L361.64,88.73L371.63,88.84L380.00,88.90L386.05,88.91L390.94,88.89L395.35,88.86L400.00,88.80L404.77,88.73L409.40,88.65L414.32,88.54L420.00,88.40L427.42,88.19L436.05,87.93L444.06,87.67L449.60,87.50L449.7,37.2L450.1,60L451.0,108L453.3,90L455.5,71L455.50,71.00L459.30,83.30L461.00,85.90L470.00,86.10L480.00,86.20L510.00,86.40L542.00,86.80" stroke="#1f1fff" stroke-width="1.3" fill="none"/>
<path d="M462,86.3L542,86.9" stroke="#1f1fff" stroke-width="1.9" fill="none"/>
<path d="M500,87.0L520,87.6L542,88.4" stroke="#1f1fff" stroke-width="1.1" opacity="0.55" fill="none"/>
<path d="M449.40,86.90L450.50,40.00L450.90,40.50L451.70,121.00L452.20,121.00L452.80,95.00L453.30,99.00L455.50,57.60L457.40,92.00L458.30,96.00L459.30,81.40L460.30,95.70L461.40,85.60L462.60,89.00L464.20,86.80L466.00,87.80L470.00,87.40" stroke="#f5a26a" stroke-width="1.15" fill="none" stroke-linejoin="round"/>
<path d="M470,87.6L520,87.8L542,88.0" stroke="#f5a26a" stroke-width="0.8" opacity="0.6" fill="none"/>
<path d="M445.2,148 Q466,125 469.9,92.5" stroke="#333" stroke-width="0.8" fill="none"/>
<path d="M470.2,88.3 L468.6,92.8 L471.7,92.8 Z" fill="#111"/>
<rect x="352.2" y="114.3" width="92.60000000000002" height="73.50000000000001" fill="#fff" stroke="#b4b4b4" stroke-width="1.3"/>
<path d="M353.30,143.15L353.75,122.90L354.20,143.15L355.08,147.15L355.96,143.80L356.41,123.31L356.86,143.80L357.74,147.80L358.62,143.57L359.07,126.21L359.52,143.57L360.40,147.57L361.28,142.62L361.73,123.53L362.18,142.62L363.06,146.62L363.94,142.57L364.39,124.69L364.84,142.57L365.72,146.57L366.60,142.64L367.05,126.98L367.50,142.64L368.38,146.64L369.26,143.35L369.71,124.70L370.16,143.35L371.04,147.35L371.92,142.75L372.37,124.70L372.82,142.75L373.70,146.75L374.58,143.75L375.03,126.19L375.48,143.75L376.36,147.75L377.24,143.65L377.69,124.68L378.14,143.65L379.02,147.65L379.90,143.45L380.35,124.68L380.80,143.45L381.68,147.45L382.56,143.22L383.01,126.17L383.46,143.22L384.34,147.22L385.22,141.79L385.67,124.66L386.12,141.79L387.00,145.79L387.88,142.12L388.33,124.66L388.78,142.12L389.66,146.12L390.54,141.86L390.99,126.15L391.44,141.86L392.32,145.86L393.20,142.78L393.65,124.64L394.10,142.78L394.98,146.78L395.86,142.60L396.31,124.63L396.76,142.60L397.64,146.60L398.52,141.62L398.97,126.13L399.42,141.62L400.30,145.62L401.18,142.86L401.63,124.62L402.08,142.86L402.96,146.86L403.84,142.13L404.29,124.61L404.74,142.13L405.62,146.13L406.50,142.41L406.95,126.10L407.40,142.41L408.28,146.41L409.16,143.09L409.61,124.60L410.06,143.09L410.94,147.09L411.82,141.99L412.27,124.59L412.72,141.99L413.60,145.99L414.48,142.55L414.93,126.08L415.38,142.55L416.26,146.55L417.14,142.96L417.59,124.57L418.04,142.96L418.92,146.96L419.80,143.46L420.25,124.57L420.70,143.46L421.58,147.46L422.46,142.34L422.91,126.06L423.36,142.34L424.24,146.34L425.12,141.80L425.57,124.55L426.02,141.80L426.90,145.80L427.78,141.58L428.23,124.55L428.68,141.58L429.56,145.58L430.44,143.03L430.89,126.04L431.34,143.03L432.22,147.03L433.10,143.25L433.55,124.53L434.00,143.25L434.88,147.25L435.76,142.89L436.21,124.52L436.66,142.89L437.54,146.89L438.42,142.66L438.87,126.02L439.32,142.66L440.20,146.66L441.08,143.18L441.53,124.51L441.98,143.18L442.86,147.18L443.74,142.45L444.19,124.50L444.10,142.45" stroke="#1f1fff" stroke-width="1.2" fill="none" stroke-linejoin="round"/>
<path d="M353.75,123.50V143.15M356.41,123.91V143.80M359.07,126.81V143.57M361.73,124.13V142.62M364.39,125.29V142.57M367.05,127.58V142.64M369.71,125.30V143.35M372.37,125.30V142.75M375.03,126.79V143.75M377.69,125.28V143.65M380.35,125.28V143.45M383.01,126.77V143.22M385.67,125.26V141.79M388.33,125.26V142.12M390.99,126.75V141.86M393.65,125.24V142.78M396.31,125.23V142.60M398.97,126.73V141.62M401.63,125.22V142.86M404.29,125.21V142.13M406.95,126.70V142.41M409.61,125.20V143.09M412.27,125.19V141.99M414.93,126.68V142.55M417.59,125.17V142.96M420.25,125.17V143.46M422.91,126.66V142.34M425.57,125.15V141.80M428.23,125.15V141.58M430.89,126.64V143.03M433.55,125.13V143.25M436.21,125.12V142.89M438.87,126.62V142.66M441.53,125.11V143.18M444.19,125.10V142.45" stroke="#1f1fff" stroke-width="1.55" stroke-linecap="round" fill="none"/>
<path d="M352.80,181.00L353.10,150.00L353.45,144.50L353.75,142.00L354.05,144.50L355.08,170.53L356.11,137.68L356.41,135.18L356.71,137.68L357.74,162.31L358.77,133.88L359.07,131.38L359.37,133.88L360.40,159.89L361.43,131.23L361.73,128.73L362.03,131.23L363.06,157.73L364.09,131.62L364.39,129.12L364.69,131.62L365.72,159.68L366.75,134.60L367.05,132.10L367.35,134.60L368.38,164.03L369.41,137.88L369.71,135.38L370.01,137.88L371.04,169.02L372.07,140.64L372.37,138.14L372.67,140.64L373.70,170.67L374.73,141.64L375.03,139.14L375.33,141.64L376.36,172.59L377.39,142.63L377.69,140.13L377.99,142.63L379.02,170.26L380.05,143.53L380.35,141.03L380.65,143.53L381.68,167.87L382.71,143.73L383.01,141.23L383.31,143.73L384.34,167.27L385.37,143.93L385.67,141.43L385.97,143.93L387.00,165.19L388.03,144.12L388.33,141.62L388.63,144.12L389.66,165.74L390.69,144.32L390.99,141.82L391.29,144.32L392.32,164.86L393.35,144.52L393.65,142.02L393.95,144.52L394.98,164.03L396.01,144.72L396.31,142.22L396.61,144.72L397.64,162.99L398.67,144.92L398.97,142.42L399.27,144.92L400.30,162.88L401.33,145.02L401.63,142.52L401.93,145.02L402.96,163.06L403.99,145.05L404.29,142.55L404.59,145.05L405.62,163.11L406.65,145.08L406.95,142.58L407.25,145.08L408.28,162.27L409.31,145.11L409.61,142.61L409.91,145.11L410.94,162.80L411.97,145.14L412.27,142.64L412.57,145.14L413.60,162.29L414.63,145.17L414.93,142.67L415.23,145.17L416.26,162.62L417.29,145.20L417.59,142.70L417.89,145.20L418.92,161.18L419.95,145.22L420.25,142.72L420.55,145.22L421.58,160.61L422.61,145.25L422.91,142.75L423.21,145.25L424.24,161.68L425.27,145.28L425.57,142.78L425.87,145.28L426.90,160.93L427.93,145.31L428.23,142.81L428.53,145.31L429.56,161.07L430.59,145.34L430.89,142.84L431.19,145.34L432.22,160.67L433.25,145.37L433.55,142.87L433.85,145.37L434.88,159.94L435.91,145.40L436.21,142.90L436.51,145.40L437.54,160.29L438.57,145.43L438.87,142.93L439.17,145.43L440.20,159.80L441.23,145.46L441.53,142.96L441.83,145.46L442.86,160.56L443.89,145.49L444.19,142.99L444.10,145.49" stroke="#f5a26a" stroke-width="1.0" fill="none" stroke-linejoin="round" stroke-opacity="0.9"/>
<path d="M350.59999999999997,121.5H352.2M350.59999999999997,160.2H352.2M351.2,140.8H352.2M351.2,179.5H352.2M369.4,187.8V189.20000000000002M407.8,187.8V189.20000000000002M388.6,187.8V188.70000000000002M427.0,187.8V188.70000000000002" stroke="#777" stroke-width="0.8"/>
<text transform="translate(349.20,124.40)" font-size="7.3" text-anchor="end" fill="#2a2a2a" stroke="#2a2a2a" stroke-width="0.15">0.01</text>
<text transform="translate(349.20,163.10)" font-size="7.3" text-anchor="end" fill="#2a2a2a" stroke="#2a2a2a" stroke-width="0.15">0.00</text>
<text transform="translate(369.30,195.40)" font-size="7.3" text-anchor="middle" fill="#2a2a2a" stroke="#2a2a2a" stroke-width="0.15">2.6</text>
<text transform="translate(408.50,195.40)" font-size="7.3" text-anchor="middle" fill="#2a2a2a" stroke="#2a2a2a" stroke-width="0.15">2.7</text>
<rect x="325.3" y="21.8" width="216.8" height="174.6" fill="none" stroke="#3a3a3a" stroke-width="1.1"/>
<path d="M477.1,136.3H509.0" stroke="#ff1a1a" stroke-width="1.0"/>
<text transform="translate(512.00,140.20)" font-size="11.4" stroke="#1e1e1e" stroke-width="0.22">PID</text>
<path d="M477.1,153.3H509.0" stroke="#1f1fff" stroke-width="1.0"/>
<text transform="translate(512.00,157.20)" font-size="11.4" stroke="#1e1e1e" stroke-width="0.22">FPID</text>
<path d="M477.1,170.4H509.0" stroke="#f5a26a" stroke-width="1.0"/>
<text transform="translate(512.00,174.30)" font-size="11.4" stroke="#1e1e1e" stroke-width="0.22">SPID</text>
</svg>
</body></html>
